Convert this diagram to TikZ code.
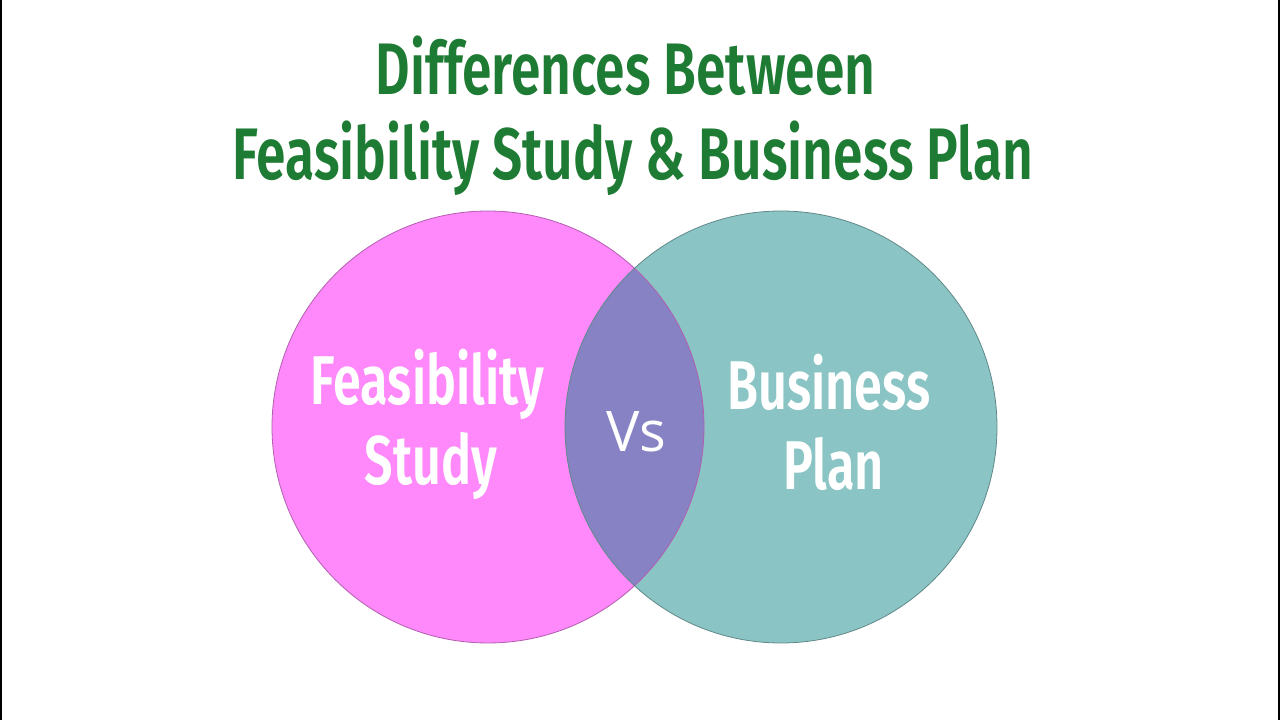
\documentclass[tikz,border=0pt]{standalone}
\usepackage{fontspec}
\newfontfamily\condfont[FakeStretch=0.73]{Fira Sans SemiBold}
\newfontfamily\thinfont{Open Sans}
\definecolor{titlegreen}{RGB}{30,123,52}
\definecolor{feaspink}{RGB}{255,136,250}
\definecolor{planteal}{RGB}{138,196,196}
\definecolor{vsviolet}{RGB}{134,130,196}
\begin{document}
\begin{tikzpicture}[x=1pt,y=1pt,
  titletext/.style={text=titlegreen,font=\condfont\fontsize{73}{73}\selectfont,anchor=base,inner sep=0pt},
  circtext/.style={text=white,font=\condfont\fontsize{69}{69}\selectfont,anchor=base,inner sep=0pt}]
\useasboundingbox (0,0) rectangle (1280,720);
\fill[white] (0,0) rectangle (1280,720);
\fill[black] (0,0) rectangle (2,720);
\fill[black] (1278,0) rectangle (1280,720);
% title
\node[titletext] (title1) at (625.5,625) {Differences Between};
\node[titletext] (title2) at (633,540) {Feasibility Study \& Business Plan};
% circles
\fill[feaspink] (488,293) circle (216);
\fill[planteal] (781,293) circle (216);
\begin{scope}
\clip (488,293) circle (216);
\fill[vsviolet] (781,293) circle (216);
\end{scope}
\draw[color=feaspink!70!black,line width=0.8pt] (488,293) circle (216);
\draw[color=planteal!70!black,line width=0.8pt] (781,293) circle (216);
% labels
\node[circtext] (feas) at (427.5,315) {Feasibility};
\node[circtext] (study) at (431,235) {Study};
\node[circtext] (busi) at (829,310) {Business};
\node[circtext] (plan) at (833.5,230) {Plan};
\node[text=white,font=\thinfont\fontsize{56}{56}\selectfont,inner sep=0pt] (vs) at (636.5,288) {Vs};
\end{tikzpicture}
\end{document}
